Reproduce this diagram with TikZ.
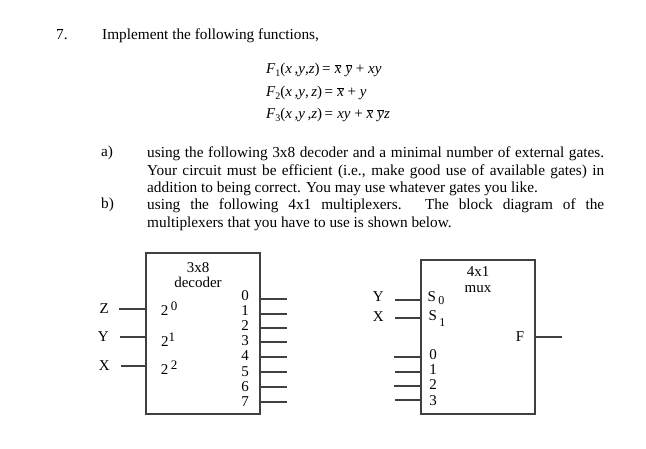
\documentclass[tikz,border=0pt]{standalone}
\usepackage{fontspec}
\setmainfont{Liberation Serif}
\usetikzlibrary{positioning}
\newcommand{\iv}[1]{\textit{#1}}
\newcommand{\nv}[1]{$\overline{\hbox{\itshape #1}}$}
\newcommand{\sx}[1]{\raisebox{-3pt}{\fontsize{10}{10}\selectfont #1}}
\newcommand{\up}[1]{\raisebox{5pt}{\fontsize{13}{13}\selectfont #1}}
\newcommand{\dn}[2]{\raisebox{#1}{\fontsize{12}{12}\selectfont #2}}
\tikzset{
  para/.style={inner sep=0pt, anchor=north west, text width=457pt, align=justify, font=\fontsize{15.3}{17.3}\selectfont},
  txt/.style={inner sep=0pt, anchor=base west, font=\fontsize{15.3}{17.3}\selectfont},
  eqn/.style={inner sep=0pt, anchor=base west, font=\fontsize{15}{17}\selectfont},
  block/.style={draw=black!75, line width=1.4pt, inner sep=0pt},
  wire/.style={draw=black!75, line width=1.1pt},
  lbl/.style={inner sep=0pt, font=\fontsize{15}{15}\selectfont},
  pin/.style={inner sep=0pt, font=\fontsize{15}{15}\selectfont},
}
\begin{document}
\begin{tikzpicture}[x=1pt, y=-1pt]
  \useasboundingbox (0,0) rectangle (646,448);

  \node[txt] (num) at (56,39) {7.};
  \node[txt] (intro) at (102,39) {Implement the following functions,};

  \node[eqn] (eq_a) at (266,73) {\iv{F}\sx{1}(\iv{x}\,,\iv{y},\iv{z})\,=\;\nv{x}\;\nv{y} + \iv{xy}};
  \node[eqn] (eq_b) at (266,96) {\iv{F}\sx{2}(\iv{x}\,,\iv{y},\,\iv{z})\,=\;\nv{x} + \iv{y}};
  \node[eqn] (eq_c) at (266,118) {\iv{F}\sx{3}(\iv{x}\,,\iv{y}\,,\iv{z})\,=\;\iv{xy} + \nv{x}\;\nv{y}\iv{z}};

  \node[txt] (part_a) at (101,156) {a)};
  \node[para] (text_a) at (147,147) {using the following 3x8 decoder and a minimal number of external gates.\linebreak
    Your circuit must be efficient (i.e., make good use of available gates) in\linebreak
    addition to being correct.  You may use whatever gates you like.};
  \node[txt] (part_b) at (101,208) {b)};
  \node[para] (text_b) at (147,199) {using the following 4x1 multiplexers.  The block diagram of the\linebreak
    multiplexers that you have to use is shown below.};

  % decoder
  \node[block, minimum width=114pt, minimum height=161pt] (dec) at (203,333.5) {};
  \node[lbl] (dec_top) at (198,268) {3x8};
  \node[lbl] (dec_name) [below=4pt of dec_top] {decoder};

  \node[pin] (s_zero) at (169,309) {2\,\up{0}};
  \node[pin] (s_one) at (168,340) {2\up{1}};
  \node[pin] (s_two) at (169,368) {2\,\up{2}};

  \coordinate (z_end) at (119,309);
  \coordinate (y_end) at (120,337);
  \coordinate (x_end) at (121,366);
  \draw[wire] (z_end) -- (z_end -| dec.west);
  \draw[wire] (y_end) -- (y_end -| dec.west);
  \draw[wire] (x_end) -- (x_end -| dec.west);
  \node[lbl] (z_lab) [left=10pt of z_end] {Z};
  \node[lbl] (y_lab) [left=11pt of y_end] {Y};
  \node[lbl] (x_lab) [left=11pt of x_end] {X};

  \node[pin] (o_zero) at (245,296) {0};
  \node[pin] (o_one) at (245,311) {1};
  \node[pin] (o_two) at (245,326) {2};
  \node[pin] (o_three) at (245,341) {3};
  \node[pin] (o_four) at (245,356) {4};
  \node[pin] (o_five) at (245,372) {5};
  \node[pin] (o_six) at (245,387) {6};
  \node[pin] (o_seven) at (245,402) {7};

  \coordinate (o0_end) at (287,299);
  \coordinate (o1_end) at (287,314);
  \coordinate (o2_end) at (287,328);
  \coordinate (o3_end) at (287,342);
  \coordinate (o4_end) at (287,357);
  \coordinate (o5_end) at (287,372);
  \coordinate (o6_end) at (287,387);
  \coordinate (o7_end) at (287,402);
  \draw[wire] (o0_end) -- (o0_end -| dec.east);
  \draw[wire] (o1_end) -- (o1_end -| dec.east);
  \draw[wire] (o2_end) -- (o2_end -| dec.east);
  \draw[wire] (o3_end) -- (o3_end -| dec.east);
  \draw[wire] (o4_end) -- (o4_end -| dec.east);
  \draw[wire] (o5_end) -- (o5_end -| dec.east);
  \draw[wire] (o6_end) -- (o6_end -| dec.east);
  \draw[wire] (o7_end) -- (o7_end -| dec.east);

  % mux
  \node[block, minimum width=114pt, minimum height=154pt] (mux) at (478,337) {};
  \node[lbl] (mux_top) at (478,272) {4x1};
  \node[lbl] (mux_name) [below=8pt of mux_top] {mux};

  \node[pin] (sel_zero) at (436,298) {S\,\dn{-3pt}{0}};
  \node[pin] (sel_one) at (437,319) {S\,\dn{-6pt}{1}};
  \node[pin] (d_zero) at (433,355) {0};
  \node[pin] (d_one) at (433,370) {1};
  \node[pin] (d_two) at (433,385) {2};
  \node[pin] (d_three) at (433,401) {3};
  \node[lbl] (f_lab) at (520,337) {F};

  \coordinate (sy_end) at (395,300);
  \coordinate (sx_end) at (395,318);
  \draw[wire] (sy_end) -- (sy_end -| mux.west);
  \draw[wire] (sx_end) -- (sx_end -| mux.west);
  \node[lbl] (sy_lab) [left=11pt of sy_end, yshift=3pt] {Y};
  \node[lbl] (sx_lab) [left=11pt of sx_end, yshift=1pt] {X};

  \coordinate (d0_end) at (394,357);
  \coordinate (d1_end) at (395,372);
  \coordinate (d2_end) at (394,386);
  \coordinate (d3_end) at (395,400);
  \draw[wire] (d0_end) -- (d0_end -| mux.west);
  \draw[wire] (d1_end) -- (d1_end -| mux.west);
  \draw[wire] (d2_end) -- (d2_end -| mux.west);
  \draw[wire] (d3_end) -- (d3_end -| mux.west);

  \coordinate (f_end) at (562,337);
  \draw[wire] (f_end) -- (f_end -| mux.east);
\end{tikzpicture}
\end{document}
